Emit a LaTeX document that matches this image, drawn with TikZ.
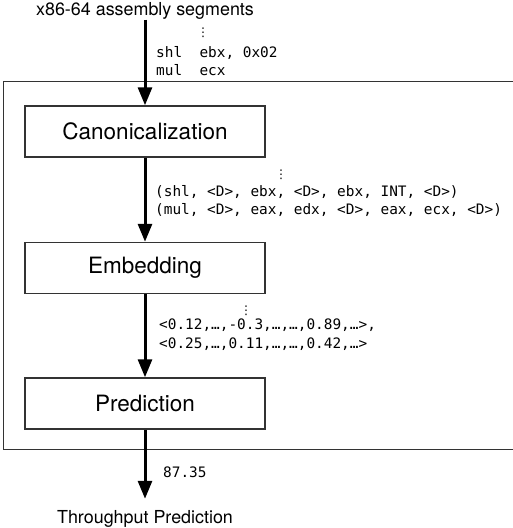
\documentclass[tikz,border=0pt]{standalone}
\usepackage{fontspec}
\setmainfont{TeX Gyre Heros}
\newfontfamily\codefont{DejaVu Sans Mono}
\newfontfamily\dotfont{DejaVu Sans}
\usetikzlibrary{arrows.meta}
\definecolor{edgegray}{HTML}{333333}
\tikzset{
  stagebox/.style={draw=edgegray, line width=1.5pt, minimum width=240pt, minimum height=51pt, inner sep=0pt, font=\fontsize{22.5}{26}\selectfont},
  flowarrow/.style={line width=3pt, -{Triangle[length=18pt,width=14pt]}},
  label/.style={inner sep=0pt, font=\fontsize{17.9}{21}\selectfont},
  code/.style={inner sep=0pt, anchor=base west, font=\codefont\fontsize{14.4}{18.5}\selectfont},
  vdots/.style={inner sep=0pt, font=\dotfont\fontsize{12}{14}\selectfont},
}
\begin{document}
\begin{tikzpicture}[x=1pt,y=-1pt]
\useasboundingbox (0,0) rectangle (512,528);
% outer frame (right edge lies beyond the picture)
\draw[edgegray, line width=1.5pt] (516,81.5) -- (3.5,81.5) -- (3.5,449.5) -- (516,449.5);
% stages
\node[stagebox] (canon) at (145,131.5) {Canonicalization};
\node[stagebox] (embed) at (145,268) {Embedding};
\node[stagebox] (pred) at (145,403.5) {Prediction};
% input / output labels
\node[label, anchor=base] (in) at (145,15.5) {x86-64 assembly segments};
\node[label, anchor=base] (out) at (145,523) {Throughput Prediction};
% arrows
\draw[flowarrow] (in.south) -- (canon.north);
\draw[flowarrow] (canon.south) -- (embed.north);
\draw[flowarrow] (embed.south) -- (pred.north);
\draw[flowarrow, shorten >=11pt] (pred.south) -- (out.north);
% code annotations
\node[vdots] (d1) at (203,33) {⋮};
\node[code] (c1) at (156,57) {shl\ \ ebx, 0x02};
\node[code] (c2) at (156,75) {mul\ \ ecx};
\node[vdots] (d2) at (281,175) {⋮};
\node[code] (c3) at (155,196.5) {(shl, <D>, ebx, <D>, ebx, INT, <D>)};
\node[code] (c4) at (155,214.5) {(mul, <D>, eax, edx, <D>, eax, ecx, <D>)};
\node[vdots] (d3) at (246,311) {⋮};
\node[code] (c5) at (159,329) {<0.12,…,-0.3,…,…,0.89,…>,};
\node[code] (c6) at (159,348) {<0.25,…,0.11,…,…,0.42,…>};
\node[code] (c7) at (163,477) {87.35};
\end{tikzpicture}
\end{document}
